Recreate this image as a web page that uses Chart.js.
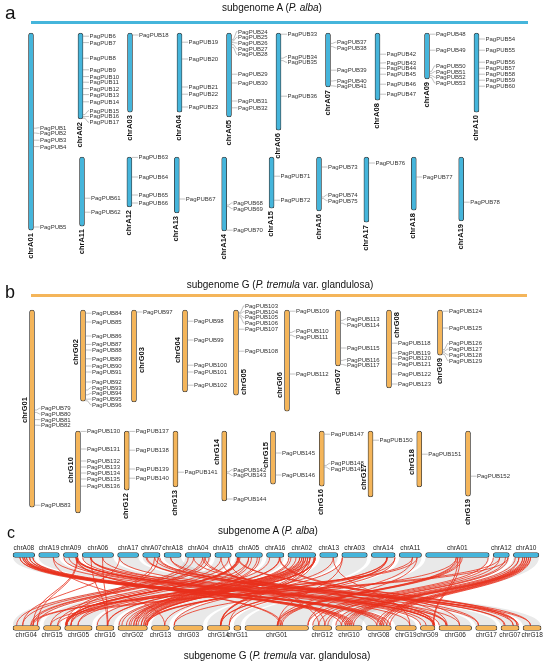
<!DOCTYPE html>
<html>
<head>
<meta charset="utf-8">
<script src="https://cdn.jsdelivr.net/npm/chart.js@4.4.0/dist/chart.umd.min.js"></script>
<style>
html, body { margin: 0; padding: 0; background: #fff; overflow: hidden; }
#wrap { position: relative; width: 550px; height: 667px; font-family: "Liberation Sans", Arial, sans-serif; color: #111; }
#wrap canvas { position: absolute; left: 0; top: 0; }
.t { position: absolute; text-align: center; font-size: 10px; line-height: 10px; white-space: nowrap; }
.p { position: absolute; font-size: 19px; line-height: 19px; }
.hbar { position: absolute; height: 3px; }
</style>
</head>
<body>
<div id="wrap">
  <canvas id="cA1" width="550" height="667"></canvas>
  <canvas id="cA2" width="550" height="667"></canvas>
  <canvas id="cG1" width="550" height="667"></canvas>
  <canvas id="cG2" width="550" height="667"></canvas>
  <canvas id="cC" width="550" height="667"></canvas>

  <div class="p" style="left:5px;top:3px;">a</div>
  <div class="t" style="left:0;width:544px;top:3px;">subgenome A (<i>P. alba</i>)</div>
  <div class="hbar" style="left:31px;width:497px;top:21px;background:#45b5db;"></div>

  <div class="p" style="left:5px;top:283px;font-size:18px;">b</div>
  <div class="t" style="left:10px;width:540px;top:280px;">subgenome G (<i>P. tremula</i> var. glandulosa)</div>
  <div class="hbar" style="left:31px;width:496px;top:294px;background:#f4b55a;"></div>

  <div class="p" style="left:7px;top:525px;font-size:16px;line-height:16px;">c</div>
  <div class="t" style="left:0;width:536px;top:526px;">subgenome A (<i>P. alba</i>)</div>
  <div class="t" style="left:4px;width:546px;top:651px;">subgenome G (<i>P. tremula</i> var. glandulosa)</div>
</div>
<script>
// chromosome lengths (Mb)
const chrA = ['A01','A02','A03','A04','A05','A06','A07','A08','A09','A10','A11','A12','A13','A14','A15','A16','A17','A18','A19'];
const lenA = [49.3, 21.5, 19.8, 19.8, 21.0, 24.3, 13.5, 16.8, 11.5, 19.8, 17.3, 12.5, 14.0, 18.5, 12.8, 13.5, 16.3, 13.3, 16.0];
const chrG = ['G01','G02','G03','G04','G05','G06','G07','G08','G09','G10','G11','G12','G13','G14','G15','G16','G17','G18','G19'];
const lenG = [49.3, 22.8, 23.0, 20.5, 21.3, 25.3, 14.0, 19.5, 11.3, 20.5, 5.5, 14.8, 14.0, 17.5, 13.3, 13.8, 16.5, 14.0, 16.3];

// which chromosomes go in each row of panels a and b
const rowA1 = ['A01','A02','A03','A04','A05','A06','A07','A08','A09','A10'];
const rowA2 = ['A11','A12','A13','A14','A15','A16','A17','A18','A19'];
const rowG1 = ['G01','G02','G03','G04','G05','G06','G07','G08','G09'];
const rowG2 = ['G10','G12','G13','G14','G15','G16','G17','G18','G19'];

// PagPUB genes: [chromosome, number, position Mb]
const genesA = [
  ['A01',1,23.8],['A01',2,25.0],['A01',3,26.8],['A01',4,28.4],['A01',5,48.5],
  ['A02',6,0.8],['A02',7,2.4],['A02',8,6.3],['A02',9,9.2],['A02',10,10.9],['A02',11,12.3],['A02',12,13.9],
  ['A02',13,15.4],['A02',14,17.2],['A02',15,20.4],['A02',16,20.9],['A02',17,21.3],
  ['A03',18,0.5],
  ['A04',19,2.3],['A04',20,6.5],['A04',21,13.5],['A04',22,15.3],['A04',23,18.5],
  ['A05',24,1.6],['A05',25,2.0],['A05',26,2.4],['A05',27,2.9],['A05',28,3.6],['A05',29,10.3],['A05',30,12.5],
  ['A05',31,17.0],['A05',32,18.7],
  ['A06',33,0.3],['A06',34,6.3],['A06',35,6.9],['A06',36,15.8],
  ['A07',37,2.6],['A07',38,3.4],['A07',39,9.3],['A07',40,12.0],['A07',41,13.2],
  ['A08',42,5.3],['A08',43,7.5],['A08',44,8.8],['A08',45,10.3],['A08',46,12.8],['A08',47,15.3],
  ['A09',48,0.3],['A09',49,4.3],['A09',50,9.6],['A09',51,10.1],['A09',52,10.6],['A09',53,11.1],
  ['A10',54,1.5],['A10',55,4.3],['A10',56,7.3],['A10',57,8.8],['A10',58,10.3],['A10',59,11.8],['A10',60,13.3],
  ['A11',61,10.3],['A11',62,13.8],
  ['A12',63,0.1],['A12',64,5.0],['A12',65,9.5],['A12',66,11.5],
  ['A13',67,10.5],
  ['A14',68,12.0],['A14',69,12.4],['A14',70,18.3],
  ['A15',71,4.8],['A15',72,10.8],
  ['A16',73,2.5],['A16',74,10.0],['A16',75,10.4],
  ['A17',76,1.5],['A18',77,5.0],['A19',78,11.3]
];
const genesG = [
  ['G01',79,25.0],['G01',80,25.6],['G01',81,27.4],['G01',82,28.8],['G01',83,48.8],
  ['G02',84,0.8],['G02',85,3.0],['G02',86,6.5],['G02',87,8.6],['G02',88,10.0],['G02',89,12.2],['G02',90,14.0],
  ['G02',91,15.5],['G02',92,18.0],['G02',93,20.0],['G02',94,21.2],['G02',95,22.3],['G02',96,22.7],
  ['G03',97,0.5],
  ['G04',98,2.8],['G04',99,7.5],['G04',100,13.8],['G04',101,15.5],['G04',102,18.8],
  ['G05',103,0.6],['G05',104,0.9],['G05',105,1.3],['G05',106,1.7],['G05',107,4.8],['G05',108,10.3],
  ['G06',109,0.3],['G06',110,5.6],['G06',111,6.3],['G06',112,16.0],
  ['G07',113,2.6],['G07',114,3.3],['G07',115,9.5],['G07',116,12.6],['G07',117,13.6],
  ['G08',118,8.3],['G08',119,10.8],['G08',120,12.0],['G08',121,13.5],['G08',122,16.0],['G08',123,18.5],
  ['G09',124,0.3],['G09',125,4.5],['G09',126,9.9],['G09',127,10.3],['G09',128,10.7],['G09',129,11.1],
  ['G10',130,0.1],['G10',131,4.5],['G10',132,7.5],['G10',133,9.0],['G10',134,10.5],['G10',135,12.0],['G10',136,13.8],
  ['G12',137,0.1],['G12',138,4.8],['G12',139,9.5],['G12',140,11.8],
  ['G13',141,10.3],
  ['G14',142,10.2],['G14',143,10.6],['G14',144,17.0],
  ['G15',145,5.5],['G15',146,11.0],
  ['G16',147,0.8],['G16',148,8.6],['G16',149,9.0],
  ['G17',150,2.3],['G18',151,5.8],['G19',152,11.3]
];

// panel c: chromosome order and gene pairs (A gene, G gene)
const orderA = ['A08','A19','A09','A06','A17','A07','A18','A04','A15','A05','A16','A02','A13','A03','A14','A11','A01','A12','A10'];
const orderG = ['G04','G15','G05','G16','G02','G13','G03','G14','G11','G01','G12','G10','G08','G19','G09','G06','G17','G07','G18'];
const blocks = [['A01','G01'],['A02','G02'],['A03','G03'],['A04','G04'],['A05','G05'],['A06','G06'],['A07','G07'],
  ['A08','G08'],['A09','G09'],['A10','G10'],['A11','G11'],['A12','G12'],['A13','G13'],['A14','G14'],['A15','G15'],
  ['A16','G16'],['A17','G17'],['A18','G18'],['A19','G19']];
const links = [
  [1,79],[2,80],[3,81],[4,82],[5,83],
  [6,84],[7,85],[8,86],[9,87],[10,88],[11,89],[12,90],[13,91],[14,92],[15,93],[16,94],[17,95],[17,96],
  [18,97],[19,98],[20,99],[21,100],[22,101],[23,102],
  [24,103],[25,104],[26,105],[27,106],[28,107],[29,108],
  [33,109],[34,110],[35,111],[36,112],
  [37,113],[38,114],[39,115],[40,116],[41,117],
  [42,118],[43,119],[44,120],[45,121],[46,122],[47,123],
  [48,124],[49,125],[50,126],[51,127],[52,128],[53,129],
  [54,130],[55,131],[56,132],[57,133],[58,134],[59,135],[60,136],
  [63,137],[64,138],[65,139],[66,140],[67,141],[68,142],[69,143],[70,144],
  [71,145],[72,146],[73,147],[74,148],[75,149],[76,150],[77,151],[78,152],
  [9,105],[10,106],[12,107],[14,108],[29,89],[30,90],[31,92],[32,93],
  [11,142],[13,143],[14,144],[15,142],[68,94],[69,95],[70,96],
  [42,131],[43,132],[44,133],[45,134],[46,135],[47,136],
  [55,118],[56,119],[57,120],[58,121],[59,122],[60,123],
  [64,145],[66,146],[71,138],[72,139],
  [34,151],[77,110],[35,148],[36,149],[74,111],[75,112],
  [20,150],[76,99],[67,152],[78,141],
  [1,97],[18,80],[2,126],[3,127],[50,81],[51,82],
  [39,104],[40,107],[24,115],[26,116],
  [61,79],[62,83],[61,100],[62,101],
  [21,128],[22,129],[52,101],[53,102]
];

const BLUE = '#45b5db', ORANGE = '#f4b55a', EDGE = '#3a3a3a';
const FONT = '"Liberation Sans", Arial, sans-serif';
const lenOf = {};
chrA.forEach((c, i) => lenOf[c] = lenA[i]);
chrG.forEach((c, i) => lenOf[c] = lenG[i]);

// where the chromosome name sits in panel b: side and position (Mb)
const namePlaceG = {
  G01: ['left', 25], G02: ['left', 10.5], G03: ['right', 12.5], G04: ['left', 10], G05: ['right', 18],
  G06: ['left', 18.75], G07: ['below'], G08: ['right', 3.75], G09: ['below'],
  G10: ['left', 9.75], G12: ['below'], G13: ['below'], G14: ['left', 5.25], G15: ['left', 6],
  G16: ['below'], G17: ['left', 11.5], G18: ['left', 7.75], G19: ['below']
};

// push overlapping labels apart, keeping each cluster centred on its genes
function spread(ts, gap) {
  let cl = ts.map(t => ({ sum: t, n: 1, top: t }));
  let changed = true;
  while (changed) {
    changed = false;
    for (let i = 0; i < cl.length - 1; i++) {
      const a = cl[i], b = cl[i + 1];
      if (a.top + a.n * gap > b.top) {
        const m = { sum: a.sum + b.sum, n: a.n + b.n };
        m.top = m.sum / m.n - (m.n - 1) * gap / 2;
        cl.splice(i, 2, m);
        changed = true;
        break;
      }
    }
  }
  const out = [];
  cl.forEach(c => { for (let k = 0; k < c.n; k++) out.push(c.top + k * gap); });
  return out;
}

function ideoPlugin(genes, place) {
  return {
    id: 'ideo',
    afterDatasetsDraw(chart) {
      const { ctx, scales: { x, y } } = chart;
      ctx.save();
      chart.data.labels.forEach((chr, i) => {
        const cx = x.getPixelForValue(i);
        const gs = genes.filter(g => g[0] === chr).sort((a, b) => a[2] - b[2]);
        const ticks = gs.map(g => y.getPixelForValue(g[2]));
        const ly = spread(ticks, 5.7);
        ctx.strokeStyle = '#808080';
        ctx.lineWidth = 0.5;
        ctx.fillStyle = '#333';
        ctx.font = '6px ' + FONT;
        ctx.textAlign = 'left';
        ctx.textBaseline = 'middle';
        gs.forEach((g, k) => {
          ctx.beginPath();
          ctx.moveTo(cx + 2.5, ticks[k]);
          ctx.lineTo(cx + 4.5, ticks[k]);
          ctx.lineTo(cx + 7.5, ly[k]);
          ctx.lineTo(cx + 8.5, ly[k]);
          ctx.stroke();
          ctx.fillText('PagPUB' + g[1], cx + 9, ly[k] + 0.3);
        });
        // chromosome name
        const p = (place && place[chr]) || ['below'];
        ctx.fillStyle = '#111';
        ctx.font = 'bold 7.5px ' + FONT;
        ctx.save();
        if (p[0] === 'below') {
          ctx.translate(cx - 0.5, y.getPixelForValue(lenOf[chr]) + 3);
          ctx.rotate(-Math.PI / 2);
          ctx.textAlign = 'right';
        } else {
          ctx.translate(cx + (p[0] === 'left' ? -7 : 8), y.getPixelForValue(p[1]));
          ctx.rotate(-Math.PI / 2);
          ctx.textAlign = 'center';
        }
        ctx.textBaseline = 'middle';
        ctx.fillText('chr' + chr, 0, 0);
        ctx.restore();
      });
      ctx.restore();
    }
  };
}

function ideoChart(id, row, genes, color, pad, ymax, place) {
  return new Chart(document.getElementById(id), {
    type: 'bar',
    data: {
      labels: row,
      datasets: [{
        data: row.map(c => [0, lenOf[c]]),
        backgroundColor: color,
        borderColor: EDGE,
        borderWidth: 0.8,
        borderRadius: 3,
        borderSkipped: false,
        barThickness: 5,
        clip: false
      }]
    },
    options: {
      responsive: false,
      animation: false,
      events: [],
      layout: { padding: pad },
      plugins: { legend: { display: false }, tooltip: { enabled: false } },
      scales: {
        x: { display: false },
        y: { display: false, reverse: true, min: 0, max: ymax }
      }
    },
    plugins: [ideoPlugin(genes, place)]
  });
}

// 4 px per Mb in panels a and b
ideoChart('cA1', rowA1, genesA, BLUE, { left: 6.25, right: 48.75, top: 33, bottom: 434 }, 50);
ideoChart('cA2', rowA2, genesA, BLUE, { left: 58.3, right: 65.1, top: 157, bottom: 410 }, 25);
ideoChart('cG1', rowG1, genesG, ORANGE, { left: 6.5, right: 84.5, top: 310, bottom: 157 }, 50, namePlaceG);
ideoChart('cG2', rowG2, genesG, ORANGE, { left: 53.6, right: 57.6, top: 431, bottom: 136 }, 25, namePlaceG);

// panel c: linear layout
const GAP = 3.1;
const start = {};
let s = 0;
orderA.forEach(c => { start[c] = s; s += lenOf[c] + GAP; });
s = 0;
orderG.forEach(c => { start[c] = s; s += lenOf[c] + GAP; });
const genePos = {};
genesA.concat(genesG).forEach(g => { genePos[g[1]] = [g[0], g[2]]; });

const synPlugin = {
  id: 'syn',
  beforeDatasetsDraw(chart) {
    const { ctx, scales: { x, y } } = chart;
    const yT = y.getPixelForValue(0) + 2.5, yB = y.getPixelForValue(1) - 2.5;
    const ym = (yT + yB) / 2;
    ctx.save();
    ctx.fillStyle = 'rgba(175,175,175,0.28)';
    blocks.forEach(([a, g]) => {
      const a0 = x.getPixelForValue(start[a]), a1 = x.getPixelForValue(start[a] + lenOf[a]);
      const g0 = x.getPixelForValue(start[g]), g1 = x.getPixelForValue(start[g] + lenOf[g]);
      ctx.beginPath();
      ctx.moveTo(a0, yT);
      ctx.lineTo(a1, yT);
      ctx.bezierCurveTo(a1, ym, g1, ym, g1, yB);
      ctx.lineTo(g0, yB);
      ctx.bezierCurveTo(g0, ym, a0, ym, a0, yT);
      ctx.closePath();
      ctx.fill();
    });
    ctx.strokeStyle = 'rgba(232,48,28,0.8)';
    ctx.lineWidth = 1;
    links.forEach(([ga, gg]) => {
      const A = genePos[ga], G = genePos[gg];
      const xa = x.getPixelForValue(start[A[0]] + A[1]);
      const xg = x.getPixelForValue(start[G[0]] + G[1]);
      ctx.beginPath();
      ctx.moveTo(xa, yT);
      ctx.bezierCurveTo(xa, ym, xg, ym, xg, yB);
      ctx.stroke();
    });
    ctx.restore();
  },
  afterDatasetsDraw(chart) {
    const { ctx, scales: { x, y } } = chart;
    ctx.save();
    ctx.fillStyle = '#222';
    ctx.font = '6.5px ' + FONT;
    ctx.textAlign = 'center';
    ctx.textBaseline = 'middle';
    orderA.forEach(c => ctx.fillText('chr' + c, x.getPixelForValue(start[c] + lenOf[c] / 2), y.getPixelForValue(0) - 7));
    orderG.forEach(c => ctx.fillText('chr' + c, x.getPixelForValue(start[c] + lenOf[c] / 2), y.getPixelForValue(1) + 7));
    ctx.restore();
  }
};

const barStyle = { borderColor: EDGE, borderWidth: 0.8, borderRadius: 3, borderSkipped: false, barThickness: 5, clip: false };
new Chart(document.getElementById('cC'), {
  type: 'bar',
  data: {
    labels: ['A', 'G'],
    datasets: [
      Object.assign({ data: orderA.map(c => ({ y: 'A', x: [start[c], start[c] + lenOf[c]] })), backgroundColor: BLUE }, barStyle),
      Object.assign({ data: orderG.map(c => ({ y: 'G', x: [start[c], start[c] + lenOf[c]] })), backgroundColor: ORANGE }, barStyle)
    ]
  },
  options: {
    indexAxis: 'y',
    responsive: false,
    animation: false,
    events: [],
    grouped: false,
    layout: { padding: { left: 13, right: 5, top: 555, bottom: 39 } },
    plugins: { legend: { display: false }, tooltip: { enabled: false } },
    scales: {
      x: { display: false, type: 'linear', min: 0, max: 412 },
      y: { display: false, offset: false }
    }
  },
  plugins: [synPlugin]
});
</script>
</body>
</html>
